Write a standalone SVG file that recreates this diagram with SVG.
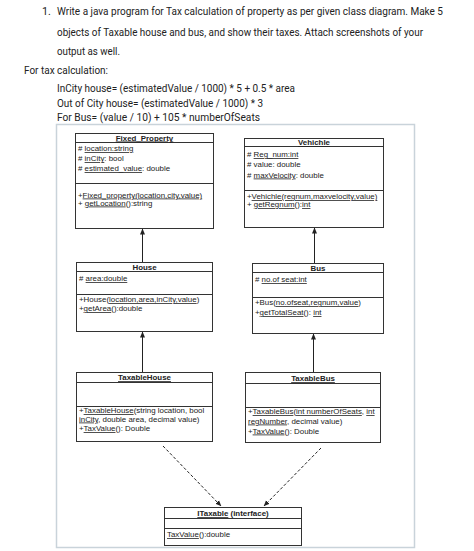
<svg xmlns="http://www.w3.org/2000/svg" width="474" height="551" viewBox="0 0 474 551">
<style>
.q{font-family:"Roboto","Liberation Sans",sans-serif;font-size:10.8px;fill:#222}
.box{fill:#fff;stroke:#333;stroke-width:1}
.ln{stroke:#333;stroke-width:1}
.t{font-family:"Liberation Sans",Arial,sans-serif;font-size:7.9px;fill:#222}
.tb{font-family:"Liberation Sans",Arial,sans-serif;font-size:7.9px;font-weight:bold;fill:#222;text-anchor:middle}
.sp{text-decoration:underline;text-decoration-color:#e06060}
.con{stroke:#222;stroke-width:1;fill:none}
.dash{stroke-dasharray:3 2}
</style>
<defs>
<marker id="ah" viewBox="0 0 6 6" refX="5.5" refY="3" markerWidth="6" markerHeight="6" orient="auto" markerUnits="userSpaceOnUse">
<path d="M0,0.5 L6,3 L0,5.5 Z" fill="#222"/>
</marker>
</defs>
<rect width="474" height="551" fill="#fff"/>
<g id="question">
<text class="q" x="42" y="15">1.</text>
<text class="q" x="57" y="15" textLength="386" lengthAdjust="spacingAndGlyphs">Write a java program for Tax calculation of property as per given class diagram. Make 5</text>
<text class="q" x="57" y="36" textLength="366" lengthAdjust="spacingAndGlyphs">objects of Taxable house and bus, and show their taxes. Attach screenshots of your</text>
<text class="q" x="57" y="55" textLength="63" lengthAdjust="spacingAndGlyphs">output as well.</text>
<text class="q" x="24" y="74" textLength="84" lengthAdjust="spacingAndGlyphs">For tax calculation:</text>
<text class="q" x="57" y="92" textLength="238" lengthAdjust="spacingAndGlyphs">InCity house= (estimatedValue / 1000) * 5 + 0.5 * area</text>
<text class="q" x="57" y="107" textLength="206" lengthAdjust="spacingAndGlyphs">Out of City house= (estimatedValue / 1000) * 3</text>
<text class="q" x="57" y="121" textLength="203" lengthAdjust="spacingAndGlyphs">For Bus=  (value / 10) + 105 * numberOfSeats</text>
</g>
<rect x="56.5" y="124.5" width="358" height="423" fill="#fff" stroke="#c9d3da" stroke-width="1.5"/>
<g id="Fixed_Property">
<rect class="box" x="75.5" y="133.5" width="138" height="95"/>
<line class="ln" x1="75.5" y1="142.5" x2="213.5" y2="142.5"/>
<line class="ln" x1="75.5" y1="183.5" x2="213.5" y2="183.5"/>
<text class="tb" x="144.5" y="140.5"><tspan class="sp">Fixed_Property</tspan></text>
<text class="t" x="78" y="151"># <tspan class="sp">location:string</tspan></text>
<text class="t" x="78" y="161"># <tspan class="sp">inCity</tspan>: bool</text>
<text class="t" x="78" y="171"># <tspan class="sp">estimated_value</tspan>: double</text>
<text class="t" x="78" y="197.5">+<tspan class="sp">Fixed_property(location,city,value)</tspan></text>
<text class="t" x="78" y="205.5">+ <tspan class="sp">getLocation</tspan>():string</text>
</g>
<g id="Vehichle">
<rect class="box" x="244.5" y="138.5" width="139" height="89"/>
<line class="ln" x1="244.5" y1="146.5" x2="383.5" y2="146.5"/>
<line class="ln" x1="244.5" y1="190.5" x2="383.5" y2="190.5"/>
<text class="tb" x="314" y="145"><tspan class="sp">Vehichle</tspan></text>
<text class="t" x="247" y="157"># <tspan class="sp">Reg_num:int</tspan></text>
<text class="t" x="247" y="167"># value: double</text>
<text class="t" x="247" y="177.5"># <tspan class="sp">maxVelocity</tspan>: double</text>
<text class="t" x="247" y="199">+<tspan class="sp">Vehichle(regnum,maxvelocity,value)</tspan></text>
<text class="t" x="247" y="207">+ <tspan class="sp">getRegnum</tspan>():<tspan class="sp">int</tspan></text>
</g>
<g id="House">
<rect class="box" x="76.5" y="262.5" width="136" height="69"/>
<line class="ln" x1="76.5" y1="271.5" x2="212.5" y2="271.5"/>
<line class="ln" x1="76.5" y1="294.5" x2="212.5" y2="294.5"/>
<text class="tb" x="144.5" y="269.5">House</text>
<text class="t" x="79" y="281"># <tspan class="sp">area:double</tspan></text>
<text class="t" x="79" y="302">+House(<tspan class="sp">location,area,inCity,value</tspan>)</text>
<text class="t" x="79" y="311">+<tspan class="sp">getArea</tspan>():double</text>
</g>
<g id="Bus">
<rect class="box" x="252.5" y="263.5" width="131" height="70"/>
<line class="ln" x1="252.5" y1="272.5" x2="383.5" y2="272.5"/>
<line class="ln" x1="252.5" y1="297.5" x2="383.5" y2="297.5"/>
<text class="tb" x="318" y="270.5">Bus</text>
<text class="t" x="255" y="282"># <tspan class="sp">no.of seat:int</tspan></text>
<text class="t" x="255" y="305">+Bus(<tspan class="sp">no.ofseat,regnum,value</tspan>)</text>
<text class="t" x="255" y="315">+<tspan class="sp">getTotalSeat</tspan>(): <tspan class="sp">int</tspan></text>
</g>
<g id="TaxableHouse">
<rect class="box" x="76.5" y="372.5" width="136" height="69"/>
<line class="ln" x1="76.5" y1="382.5" x2="212.5" y2="382.5"/>
<line class="ln" x1="76.5" y1="406.5" x2="212.5" y2="406.5"/>
<text class="tb" x="144.5" y="380"><tspan class="sp">TaxableHouse</tspan></text>
<text class="t" x="79" y="413">+<tspan class="sp">TaxableHouse</tspan>(string location, bool</text>
<text class="t" x="79" y="421.5"><tspan class="sp">inCity</tspan>, double area, decimal value)</text>
<text class="t" x="79" y="431">+<tspan class="sp">TaxValue</tspan>(): Double</text>
</g>
<g id="TaxableBus">
<rect class="box" x="245.5" y="372.5" width="135" height="70"/>
<line class="ln" x1="245.5" y1="383.5" x2="380.5" y2="383.5"/>
<line class="ln" x1="245.5" y1="407.5" x2="380.5" y2="407.5"/>
<text class="tb" x="313" y="381"><tspan class="sp">TaxableBus</tspan></text>
<text class="t" x="248" y="414">+<tspan class="sp">TaxableBus</tspan>(<tspan class="sp">int numberOfSeats</tspan>, <tspan class="sp">int</tspan></text>
<text class="t" x="248" y="423.5"><tspan class="sp">regNumber</tspan>, decimal value)</text>
<text class="t" x="248" y="433.5">+<tspan class="sp">TaxValue</tspan>(): Double</text>
</g>
<g id="ITaxable">
<rect class="box" x="164.5" y="507.5" width="137" height="38"/>
<line class="ln" x1="164.5" y1="518.5" x2="301.5" y2="518.5"/>
<line class="ln" x1="164.5" y1="528.5" x2="301.5" y2="528.5"/>
<text class="tb" x="233" y="516"><tspan class="sp">ITaxable</tspan> (interface)</text>
<text class="t" x="167" y="537"><tspan class="sp">TaxValue</tspan>():double</text>
</g>
<g id="connectors">
<line class="con" x1="142.5" y1="262" x2="142.5" y2="229" marker-end="url(#ah)"/>
<line class="con" x1="314.5" y1="263" x2="314.5" y2="228" marker-end="url(#ah)"/>
<line class="con" x1="142.5" y1="372" x2="142.5" y2="332" marker-end="url(#ah)"/>
<line class="con" x1="313.5" y1="372" x2="313.5" y2="334" marker-end="url(#ah)"/>
<line class="con dash" x1="163" y1="446" x2="221" y2="506" marker-end="url(#ah)"/>
<line class="con dash" x1="321" y1="448" x2="264" y2="506" marker-end="url(#ah)"/>
</g>
</svg>
